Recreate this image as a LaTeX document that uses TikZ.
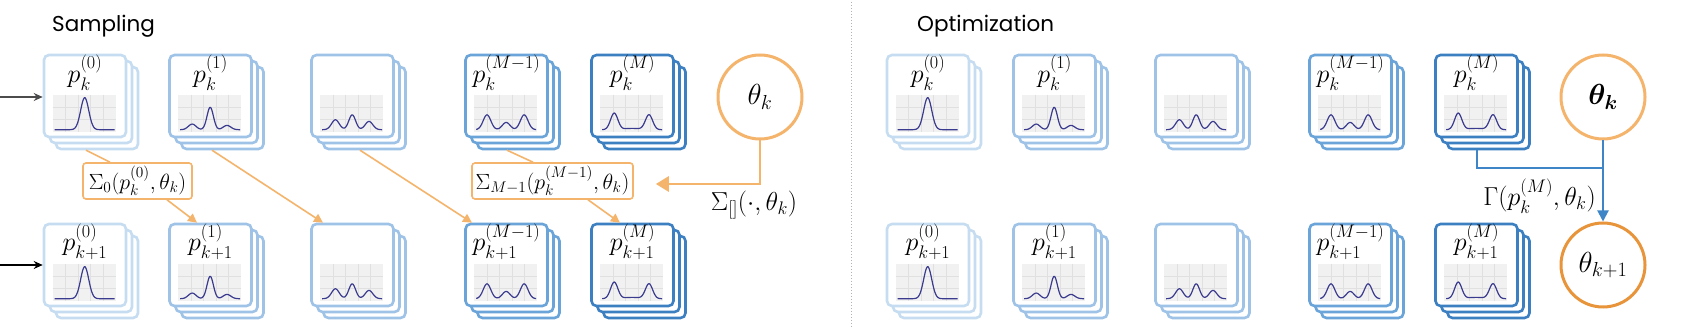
\RequirePackage{fix-cm}
\documentclass[tikz,border=0pt]{standalone}
\usepackage{amsmath,bm}
\usepackage{fontspec}
\setsansfont{Poppins}
\usetikzlibrary{arrows.meta,calc}
\definecolor{cA}{HTML}{C6DCF1}
\definecolor{cB}{HTML}{9EC3E6}
\definecolor{cC}{HTML}{6BA4D8}
\definecolor{cD}{HTML}{3D80C2}
\definecolor{orA}{HTML}{F5B46C}
\definecolor{orB}{HTML}{E8943A}
\definecolor{gridbg}{HTML}{F1F1F1}
\definecolor{gridln}{HTML}{E0E0E0}
\definecolor{curvec}{HTML}{3A3A8E}
\definecolor{conblue}{HTML}{3D85C6}
\pgfmathdeclarefunction{gau}{3}{\pgfmathparse{exp(-(((#1-#2)/#3)^2))}}
\tikzset{
  card/.style={draw=#1, line width=2.6pt, fill=white, rounded corners=5pt,
    minimum width=82pt, minimum height=82pt, inner sep=0pt},
  stackbox/.style={draw=none, minimum width=96pt, minimum height=96pt, inner sep=0pt},
  lab/.style={font=\fontsize{26}{30}\selectfont, inner sep=0pt},
  title/.style={font=\sffamily\fontsize{21.5}{26}\selectfont, inner sep=0pt, anchor=base west},
  sigbox/.style={draw=orA, line width=1.6pt, rounded corners=3pt, fill=white,
    inner sep=0pt, minimum height=36pt, font=\fontsize{22}{26}\selectfont},
  circ/.style={circle, draw=#1, line width=3pt, minimum size=84pt, inner sep=0pt,
    font=\fontsize{29}{33}\selectfont},
  orline/.style={draw=orA, line width=1.6pt},
  orarrow/.style={orline, -{Triangle[length=9pt,width=9pt]}},
  inarrow/.style={line width=1.3pt, -{Stealth[length=9pt,width=8pt]}},
  bluecon/.style={draw=conblue, line width=2pt},
}
\newcommand\cardstack[6]{%
  \node[card=#4, xshift=12pt, yshift=-12pt] at (#2,#3) {};
  \node[card=#4, xshift=6pt, yshift=-6pt] at (#2,#3) {};
  \node[card=#4] (#1) at (#2,#3) {};
  \node[stackbox] (#1s) at ([xshift=6pt,yshift=-6pt]#1.center) {};
  \begin{scope}[shift={(#1.north west)}]
    \fill[gridbg] (10,41) rectangle (73,78);
    \foreach \gx in {22.6,35.2,47.8,60.4} \draw[gridln,line width=0.5pt] (\gx,41) -- (\gx,78);
    \foreach \gy in {53.3,65.7} \draw[gridln,line width=0.5pt] (10,\gy) -- (73,\gy);
    \draw[curvec, line width=1.2pt] plot[domain=0:1, samples=90, smooth] ({12+60*\x},{76-33*(#6)});
  \end{scope}
  \node[lab] (#1l) at ([yshift=-19pt]#1.north) {#5};
}
\newcommand\fA{0.97*gau(\x,0.5,0.095)}
\newcommand\fB{0.68*gau(\x,0.5,0.075)+0.17*gau(\x,0.2,0.09)+0.13*gau(\x,0.78,0.09)}
\newcommand\fC{0.45*gau(\x,0.5,0.08)+0.3*gau(\x,0.22,0.09)+0.25*gau(\x,0.78,0.09)}
\newcommand\fD{0.45*gau(\x,0.18,0.09)+0.22*gau(\x,0.5,0.09)+0.45*gau(\x,0.8,0.09)}
\newcommand\fE{0.5*gau(\x,0.2,0.085)+0.45*gau(\x,0.78,0.085)+0.04*gau(\x,0.5,0.2)}
\begin{document}
\begin{tikzpicture}[x=1pt,y=-1pt]
\useasboundingbox (0,0) rectangle (1690,328);
\fill[white] (0,0) rectangle (1690,328);
% titles
\node[title] (tsamp) at (52,32) {Sampling};
\node[title] (topt) at (917,32) {Optimization};
% divider
\coordinate (dtop) at (851,2);
\coordinate (dbot) at (851,328);
\draw[gray!60, line width=1pt, dotted] (dtop) -- (dbot);
% ---------- Sampling ----------
\cardstack{ta1}{85}{96}{cA}{$p_k^{(0)}$}{\fA}
\cardstack{ta2}{210.5}{96}{cB}{$p_k^{(1)}$}{\fB}
\cardstack{ta3}{352.5}{96}{cB}{}{\fC}
\cardstack{ta4}{506.5}{96}{cC}{$p_k^{(M-1)}$}{\fD}
\cardstack{ta5}{632.5}{96}{cD}{$p_k^{(M)}$}{\fE}
\cardstack{ba1}{85}{265}{cA}{$p_{k+1}^{(0)}$}{\fA}
\cardstack{ba2}{210.5}{265}{cB}{$p_{k+1}^{(1)}$}{\fB}
\cardstack{ba3}{352.5}{265}{cB}{}{\fC}
\cardstack{ba4}{506.5}{265}{cC}{$p_{k+1}^{(M-1)}$}{\fD}
\cardstack{ba5}{632.5}{265}{cD}{$p_{k+1}^{(M)}$}{\fE}
\node[circ=orA] (thk) at (760,97) {$\theta_k$};
% input arrows
\coordinate (in1) at (0,97);
\coordinate (in2) at (0,265);
\draw[inarrow, draw=black!70] (in1) -- (in1 -| ta1.west);
\draw[inarrow, draw=black] (in2) -- (in2 -| ba1.west);
% sigma boxes
\node[sigbox, minimum width=109pt] (sg0) at (137.5,181) {$\Sigma_0(p_k^{(0)},\theta_k)$};
\node[sigbox, minimum width=161pt] (sgm) at (552.5,181) {$\Sigma_{M-1}(p_k^{(M-1)},\theta_k)$};
% orange connectors
\draw[orline] ([xshift=-5pt]ta1s.south) -- ([xshift=-27.5pt]sg0.north);
\draw[orarrow] ([xshift=29.5pt]sg0.south) -- ([xshift=-13.5pt]ba2.north);
\draw[orarrow] ([xshift=-4.5pt]ta2s.south) -- ([xshift=-29.5pt]ba3.north);
\draw[orarrow] ([xshift=1.5pt]ta3s.south) -- ([xshift=-34.5pt]ba4.north);
\draw[orline] ([xshift=-5.5pt]ta4s.south) -- ([xshift=-19.5pt]sgm.north);
\draw[orarrow] ([xshift=35.5pt]sgm.south) -- ([xshift=-12.5pt]ba5.north);
\draw[draw=orA, line width=2.8pt, -{Triangle[length=13pt,width=15pt]}]
  (thk.south) |- ([xshift=22pt,yshift=-3pt]sgm.east);
\node[lab] (sglab) at (754,205) {$\Sigma_{[]}(\cdot,\theta_k)$};
% ---------- Optimization ----------
\cardstack{to1}{928}{96}{cA}{$p_k^{(0)}$}{\fA}
\cardstack{to2}{1054.5}{96}{cB}{$p_k^{(1)}$}{\fB}
\cardstack{to3}{1196.5}{96}{cB}{}{\fC}
\cardstack{to4}{1350.5}{96}{cC}{$p_k^{(M-1)}$}{\fD}
\cardstack{to5}{1476.5}{96}{cD}{$p_k^{(M)}$}{\fE}
\cardstack{bo1}{928}{265}{cA}{$p_{k+1}^{(0)}$}{\fA}
\cardstack{bo2}{1054.5}{265}{cB}{$p_{k+1}^{(1)}$}{\fB}
\cardstack{bo3}{1196.5}{265}{cB}{}{\fC}
\cardstack{bo4}{1350.5}{265}{cC}{$p_{k+1}^{(M-1)}$}{\fD}
\cardstack{bo5}{1476.5}{265}{cD}{$p_{k+1}^{(M)}$}{\fE}
\node[circ=orA] (thko) at (1603,97) {$\bm{\theta_k}$};
\node[circ=orB] (thk1) at (1603,265) {$\theta_{k+1}$};
\draw[bluecon] ([xshift=-5.5pt]to5s.south) -- ++(0,18) -| (thko.south);
\draw[bluecon, -{Triangle[length=11pt,width=11pt]}] (thko.south) -- (thk1.north);
\node[lab, anchor=east] (gam) at (1596,196) {$\Gamma(p_k^{(M)},\theta_k)$};
\end{tikzpicture}
\end{document}
